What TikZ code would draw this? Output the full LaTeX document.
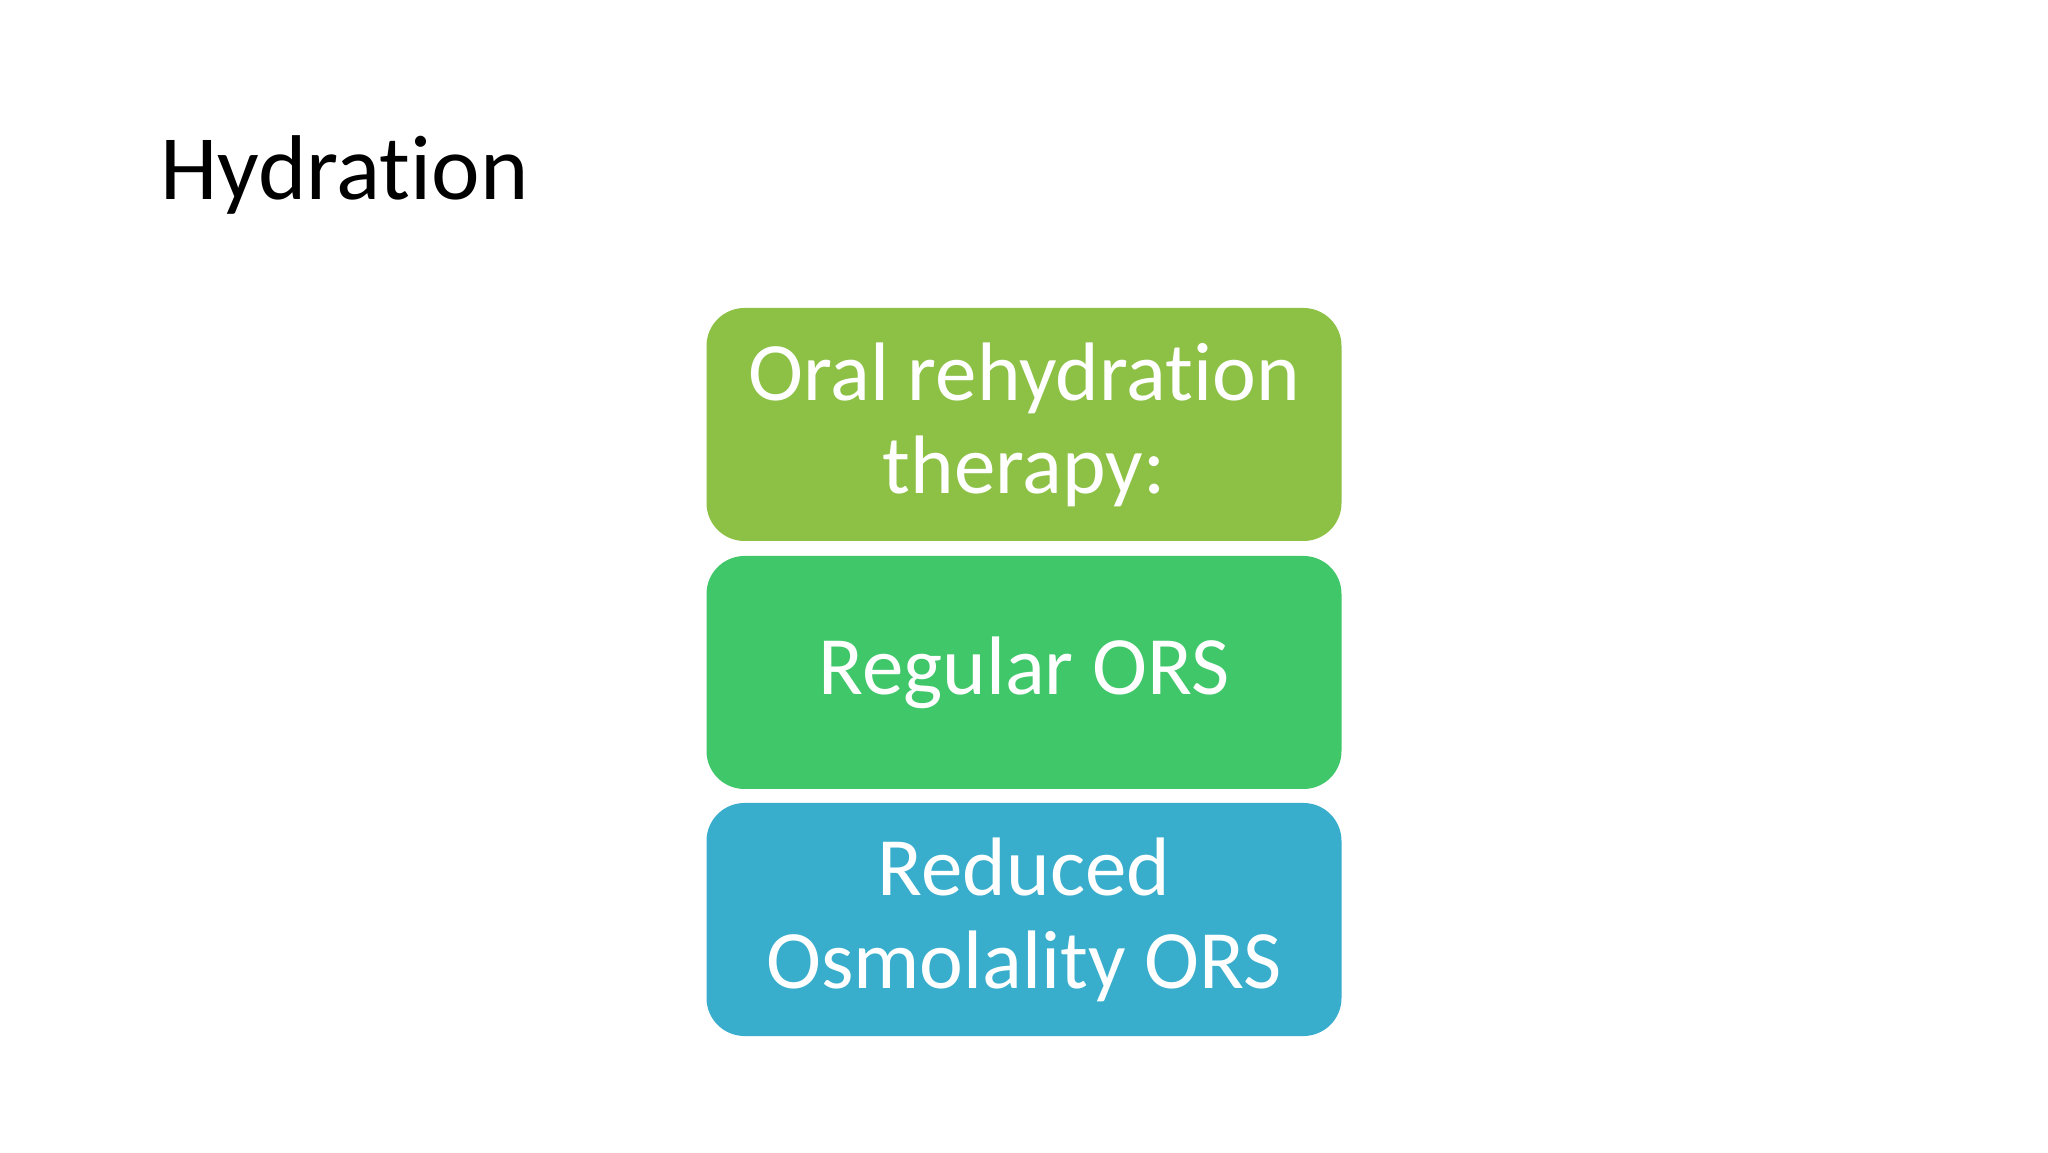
\documentclass[tikz,border=0pt]{standalone}
\usepackage{fontspec}
\setmainfont[RawFeature={-liga;-dlig;-clig}]{Carlito}
\definecolor{boxA}{RGB}{141,193,70}
\definecolor{boxB}{RGB}{64,199,106}
\definecolor{boxC}{RGB}{56,174,204}
\begin{document}
\begin{tikzpicture}[x=1pt,y=1pt,
  stepbox/.style={rounded corners=38pt, minimum width=635pt, minimum height=233pt,
    inner sep=0pt, text=white, align=center, font=\fontsize{83}{93}\selectfont}]
\useasboundingbox (0,0) rectangle (2048,1152);
\fill[white] (0,0) rectangle (2048,1152);
\node[anchor=base west, inner sep=0pt, font=\fontsize{92}{100}\selectfont] (title) at (160,952) {Hydration};
\node[stepbox, fill=boxA] (oral) at (1024,727.5) {Oral rehydration\\therapy:};
\node[stepbox, fill=boxB] (reg) at (1024,479.5) {Regular ORS};
\node[stepbox, fill=boxC] (red) at (1024,232.5) {Reduced\\Osmolality ORS};
\end{tikzpicture}
\end{document}
